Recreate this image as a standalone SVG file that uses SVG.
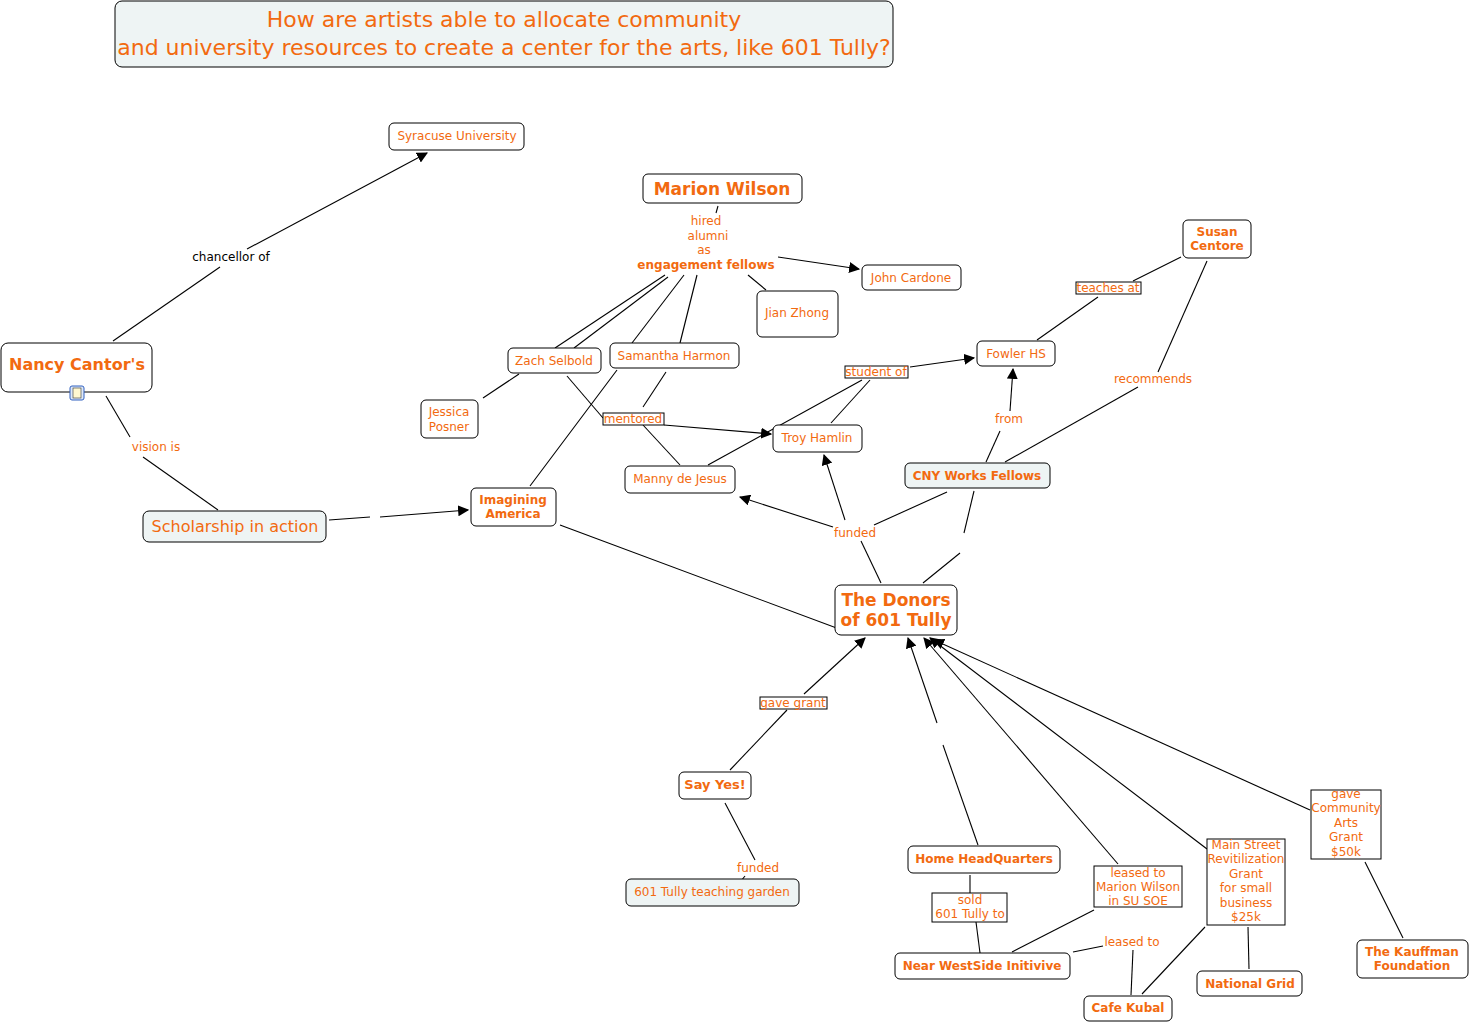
<svg xmlns="http://www.w3.org/2000/svg" width="1470" height="1023" viewBox="0 0 1470 1023">
<style>
text{font-family:"DejaVu Sans",Verdana,sans-serif;fill:#f26a10;text-anchor:middle}
.n rect{fill:#fff;stroke:#000;stroke-width:1}
.f rect{fill:#eef4f4}
.b{font-weight:bold}
#links line{stroke:#000;stroke-width:1.1}
.lb rect{fill:#fff;stroke:#000;stroke-width:1}
</style>
<defs><marker id="a" viewBox="0 0 10 10" refX="9" refY="5" markerWidth="11" markerHeight="11" markerUnits="userSpaceOnUse" orient="auto"><path d="M0,0L10,5L0,10z"/></marker></defs>
<rect width="1470" height="1023" fill="#fff"/>
<g id="title" class="n f"><rect x="115" y="1" width="778" height="66" rx="7"/><text x="504" y="27" font-size="22">How are artists able to allocate community</text><text x="504" y="55" font-size="22">and university resources to create a center for the arts, like 601 Tully?</text></g>
<g id="links">
<line x1="113" y1="341" x2="220" y2="267"/><line x1="247" y1="249" x2="427" y2="153" marker-end="url(#a)"/>
<line x1="106" y1="396" x2="130" y2="437"/><line x1="143" y1="457" x2="218" y2="510"/>
<line x1="329" y1="520" x2="370" y2="517"/><line x1="380" y1="517" x2="468" y2="510" marker-end="url(#a)"/>
<line x1="560" y1="525" x2="850" y2="633"/>
<line x1="718" y1="206" x2="716" y2="213"/>
<line x1="778" y1="257" x2="859" y2="269" marker-end="url(#a)"/>
<line x1="748" y1="275" x2="766" y2="290"/>
<line x1="665" y1="275" x2="555" y2="348"/><line x1="668" y1="277" x2="574" y2="348"/>
<line x1="697" y1="275" x2="680" y2="343"/><line x1="684" y1="275" x2="632" y2="343"/>
<line x1="617" y1="370" x2="530" y2="486"/>
<line x1="483" y1="398" x2="519" y2="374"/>
<line x1="567" y1="376" x2="603" y2="418"/><line x1="666" y1="372" x2="643" y2="407"/>
<line x1="643" y1="425" x2="680" y2="465"/><line x1="664" y1="425" x2="771" y2="434" marker-end="url(#a)"/>
<line x1="831" y1="423" x2="870" y2="380"/><line x1="708" y1="465" x2="862" y2="380"/>
<line x1="910" y1="367" x2="974" y2="358" marker-end="url(#a)"/>
<line x1="1181" y1="257" x2="1133" y2="281"/><line x1="1098" y1="297" x2="1037" y2="340"/>
<line x1="1207" y1="261" x2="1158" y2="372"/><line x1="1138" y1="387" x2="1005" y2="462"/>
<line x1="986" y1="462" x2="1000" y2="431"/><line x1="1010" y1="411" x2="1013" y2="369" marker-end="url(#a)"/>
<line x1="947" y1="492" x2="874" y2="525"/><line x1="833" y1="527" x2="740" y2="497" marker-end="url(#a)"/>
<line x1="845" y1="520" x2="824" y2="455" marker-end="url(#a)"/><line x1="881" y1="583" x2="861" y2="541"/>
<line x1="974" y1="491" x2="964" y2="533"/><line x1="960" y1="553" x2="923" y2="583"/>
<line x1="730" y1="770" x2="787" y2="710"/><line x1="804" y1="694" x2="865" y2="638" marker-end="url(#a)"/>
<line x1="725" y1="803" x2="755" y2="860"/><line x1="745" y1="876" x2="741" y2="881"/>
<line x1="978" y1="845" x2="943" y2="745"/><line x1="937" y1="723" x2="908" y2="638" marker-end="url(#a)"/>
<line x1="970" y1="875" x2="970" y2="893"/><line x1="976" y1="922" x2="980" y2="953"/>
<line x1="1012" y1="952" x2="1094" y2="910"/><line x1="1118" y1="864" x2="924" y2="638" marker-end="url(#a)"/>
<line x1="1073" y1="952" x2="1103" y2="946"/><line x1="1133" y1="950" x2="1131" y2="995"/>
<line x1="1207" y1="849" x2="930" y2="638" marker-end="url(#a)"/>
<line x1="1142" y1="994" x2="1205" y2="927"/><line x1="1249" y1="969" x2="1248" y2="927"/>
<line x1="1310" y1="810" x2="934" y2="640" marker-end="url(#a)"/>
<line x1="1403" y1="938" x2="1365" y2="862"/>
</g>
<g id="labels" font-size="12">
<text x="231" y="261" style="fill:#000">chancellor of</text>
<text x="156" y="451">vision is</text>
<text x="706" y="225">hired</text><text x="708" y="240">alumni</text><text x="704" y="254">as</text><text x="706" y="269" class="b">engagement fellows</text>
<g class="lb"><rect x="603" y="413" width="61" height="12"/><text x="633" y="423">mentored</text></g>
<g class="lb"><rect x="845" y="366" width="63" height="12"/><text x="876" y="376">student of</text></g>
<g class="lb"><rect x="1076" y="282" width="65" height="12"/><text x="1108" y="292">teaches at</text></g>
<text x="1153" y="383">recommends</text>
<text x="1009" y="423">from</text>
<text x="855" y="537">funded</text>
<g class="lb"><rect x="760" y="697" width="67" height="12"/><text x="793" y="707">gave grant</text></g>
<text x="758" y="872">funded</text>
<g class="lb"><rect x="932" y="893" width="75" height="29"/><text x="970" y="904">sold</text><text x="970" y="918">601 Tully to</text></g>
<g class="lb"><rect x="1094" y="866" width="88" height="41"/><text x="1138" y="877">leased to</text><text x="1138" y="891">Marion Wilson</text><text x="1138" y="905">in SU SOE</text></g>
<text x="1132" y="946">leased to</text>
<g class="lb"><rect x="1207" y="839" width="78" height="86"/><text x="1246" y="849">Main Street</text><text x="1246" y="863">Revitilization</text><text x="1246" y="878">Grant</text><text x="1246" y="892">for small</text><text x="1246" y="907">business</text><text x="1246" y="921">$25k</text></g>
<g class="lb"><rect x="1311" y="790" width="70" height="69"/><text x="1346" y="798">gave</text><text x="1346" y="812">Community</text><text x="1346" y="827">Arts</text><text x="1346" y="841">Grant</text><text x="1346" y="856">$50k</text></g>
</g>
<g id="syracuse" class="n"><rect x="389" y="123" width="135" height="27" rx="5"/><text x="457" y="140" font-size="12">Syracuse University</text></g>
<g id="nancy" class="n"><rect x="1" y="343" width="151" height="49" rx="7"/><text x="77" y="370" font-size="16" class="b">Nancy Cantor's</text>
<rect x="70" y="386" width="14" height="14" rx="2" style="fill:#dde8f8;stroke:#3060c0"/><rect x="73" y="388" width="8" height="10" style="fill:#fff8d0;stroke:#333;stroke-width:0.6"/></g>
<g id="scholarship" class="n f"><rect x="143" y="511" width="183" height="31" rx="6"/><text x="235" y="532" font-size="16">Scholarship in action</text></g>
<g id="imagining" class="n"><rect x="471" y="488" width="85" height="38" rx="5"/><text x="513" y="504" font-size="12" class="b">Imagining</text><text x="513" y="518" font-size="12" class="b">America</text></g>
<g id="marion" class="n"><rect x="643" y="174" width="159" height="29" rx="5"/><text x="722" y="195" font-size="17" class="b">Marion Wilson</text></g>
<g id="john" class="n"><rect x="862" y="265" width="99" height="25" rx="5"/><text x="911" y="282" font-size="12">John Cardone</text></g>
<g id="jian" class="n"><rect x="757" y="291" width="81" height="46" rx="5"/><text x="797" y="317" font-size="12">Jian Zhong</text></g>
<g id="zach" class="n"><rect x="508" y="348" width="93" height="25" rx="5"/><text x="554" y="365" font-size="12">Zach Selbold</text></g>
<g id="samantha" class="n"><rect x="610" y="343" width="129" height="25" rx="5"/><text x="674" y="360" font-size="12">Samantha Harmon</text></g>
<g id="jessica" class="n"><rect x="421" y="400" width="57" height="38" rx="5"/><text x="449" y="416" font-size="12">Jessica</text><text x="449" y="431" font-size="12">Posner</text></g>
<g id="troy" class="n"><rect x="773" y="425" width="89" height="27" rx="5"/><text x="817" y="442" font-size="12">Troy Hamlin</text></g>
<g id="manny" class="n"><rect x="625" y="466" width="110" height="27" rx="5"/><text x="680" y="483" font-size="12">Manny de Jesus</text></g>
<g id="fowler" class="n"><rect x="977" y="341" width="78" height="25" rx="5"/><text x="1016" y="358" font-size="12">Fowler HS</text></g>
<g id="susan" class="n"><rect x="1183" y="220" width="68" height="38" rx="5"/><text x="1217" y="236" font-size="12" class="b">Susan</text><text x="1217" y="250" font-size="12" class="b">Centore</text></g>
<g id="cny" class="n f"><rect x="905" y="463" width="145" height="25" rx="5"/><text x="977" y="480" font-size="12" class="b">CNY Works Fellows</text></g>
<g id="donors" class="n"><rect x="835" y="585" width="122" height="50" rx="6"/><text x="896" y="606" font-size="17" class="b">The  Donors</text><text x="896" y="626" font-size="17" class="b">of 601 Tully</text></g>
<g id="sayyes" class="n"><rect x="679" y="772" width="72" height="27" rx="5"/><text x="715" y="789" font-size="13" class="b">Say Yes!</text></g>
<g id="garden" class="n f"><rect x="626" y="879" width="173" height="27" rx="5"/><text x="712" y="896" font-size="12">601 Tully teaching garden</text></g>
<g id="home" class="n"><rect x="908" y="846" width="152" height="27" rx="5"/><text x="984" y="863" font-size="12" class="b">Home HeadQuarters</text></g>
<g id="near" class="n"><rect x="895" y="953" width="175" height="26" rx="5"/><text x="982" y="970" font-size="12" class="b">Near WestSide Initivive</text></g>
<g id="cafe" class="n"><rect x="1084" y="996" width="88" height="25" rx="5"/><text x="1128" y="1012" font-size="12" class="b">Cafe Kubal</text></g>
<g id="grid" class="n"><rect x="1197" y="971" width="105" height="25" rx="5"/><text x="1250" y="988" font-size="12" class="b">National Grid</text></g>
<g id="kauffman" class="n"><rect x="1357" y="940" width="111" height="38" rx="5"/><text x="1412" y="956" font-size="12" class="b">The Kauffman</text><text x="1412" y="970" font-size="12" class="b">Foundation</text></g>
</svg>
